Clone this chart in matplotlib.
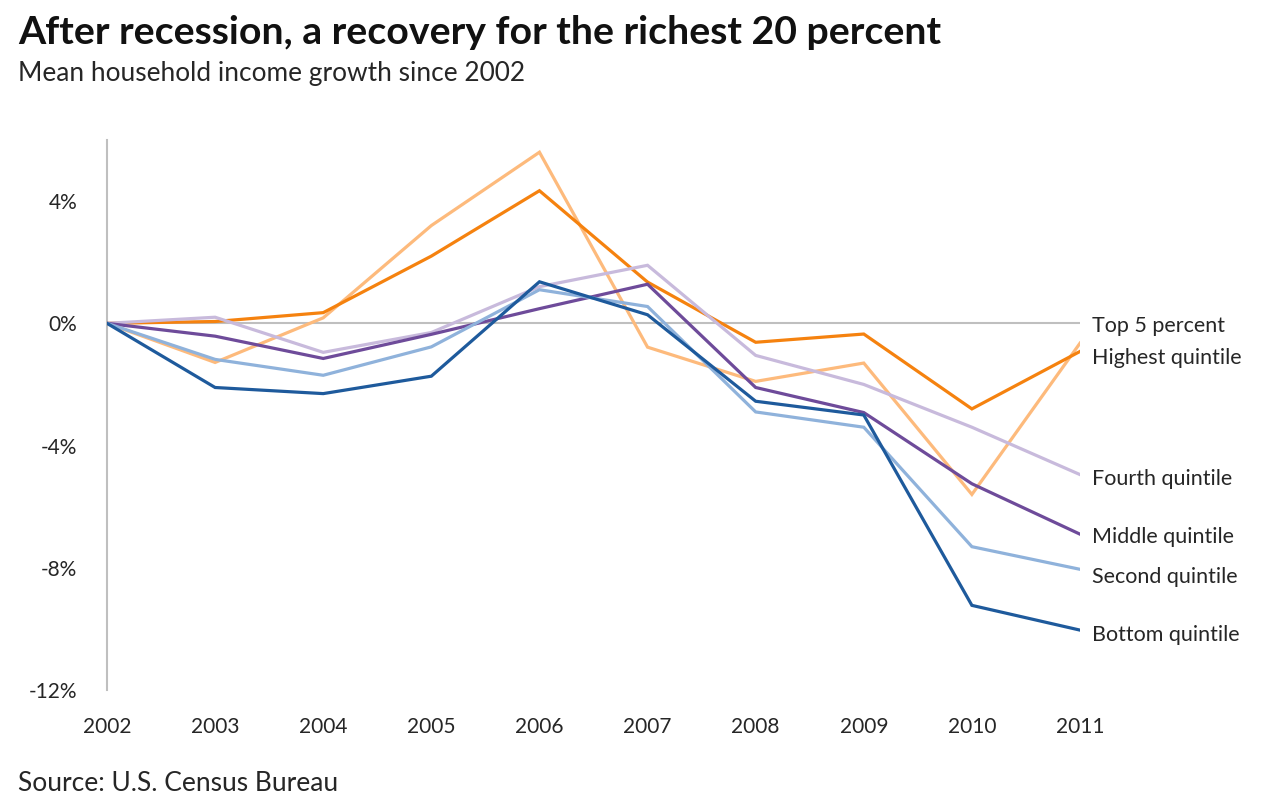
import matplotlib
matplotlib.use("Agg")
import matplotlib.pyplot as plt
from matplotlib.ticker import FuncFormatter

plt.rcParams['font.family'] = ['Lato', 'DejaVu Sans']

years = [2002, 2003, 2004, 2005, 2006, 2007, 2008, 2009, 2010, 2011]

top5 = [0, -1.28, 0.18, 3.2, 5.6, -0.78, -1.9, -1.3, -5.6, -0.65]
highest = [0, 0.06, 0.35, 2.2, 4.34, 1.35, -0.62, -0.35, -2.8, -0.92]
fourth = [0, 0.2, -0.95, -0.3, 1.2, 1.9, -1.05, -2.0, -3.4, -4.95]
middle = [0, -0.42, -1.15, -0.36, 0.48, 1.28, -2.1, -2.92, -5.25, -6.9]
second = [0, -1.18, -1.7, -0.77, 1.1, 0.55, -2.9, -3.4, -7.31, -8.05]
bottom = [0, -2.1, -2.3, -1.73, 1.36, 0.28, -2.55, -3.0, -9.23, -10.04]

series_names = ["Top 5 percent", "Highest quintile", "Fourth quintile",
                "Middle quintile", "Second quintile", "Bottom quintile"]
series_values = [top5, highest, fourth, middle, second, bottom]
colors = ["#FDBA7C", "#F5820F", "#C8BADC", "#6E4B9A", "#8FB2DB", "#1E5A9C"]
label_y = [0.0, -1.05, -5.0, -6.9, -8.2, -10.1]

yticks = [4, 0, -4, -8, -12]

fig = plt.figure(figsize=(12.8, 8.05), dpi=100)
ax = fig.add_axes([107/1280, 1-690/805, (1080-107)/1280, (690-140)/805])

ax.axhline(0, color="#BFBFBF", lw=1.5, zorder=1)
for name, vals, c in zip(series_names, series_values, colors):
    ax.plot(years, vals, color=c, lw=2.3, zorder=3, solid_joinstyle='miter')

for name, ly in zip(series_names, label_y):
    ax.annotate(name, xy=(1, ly), xycoords=('axes fraction', 'data'),
                xytext=(12, -3), textcoords='offset pixels',
                ha='left', va='center', fontsize=15.5, color="#262626")

ax.set_xlim(2002, 2011)
ax.set_ylim(-12, 6)
ax.set_yticks(yticks)
ax.yaxis.set_major_formatter(FuncFormatter(lambda v, p: f"{int(v)}%"))
ax.set_xticks(years)
ax.set_xticklabels([str(y) for y in years])
ax.tick_params(axis='both', length=0, labelsize=15, colors="#262626")
ax.tick_params(axis='y', pad=21.5)
ax.tick_params(axis='x', pad=19.5)
for s in ['top', 'right', 'bottom']:
    ax.spines[s].set_visible(False)
ax.spines['left'].set_color("#BFBFBF")
ax.spines['left'].set_linewidth(1.5)

fig.text(18/1280, 1-32/805, "After recession, a recovery for the richest 20 percent",
         fontsize=28.3, fontweight='bold', color="#111111", ha='left', va='center')
fig.text(18/1280, 1-74/805, "Mean household income growth since 2002",
         fontsize=18.9, color="#262626", ha='left', va='center')
fig.text(18/1280, 1-783/805, "Source: U.S. Census Bureau",
         fontsize=19, color="#262626", ha='left', va='center')

fig.savefig("out.png", dpi=100, facecolor="white")
